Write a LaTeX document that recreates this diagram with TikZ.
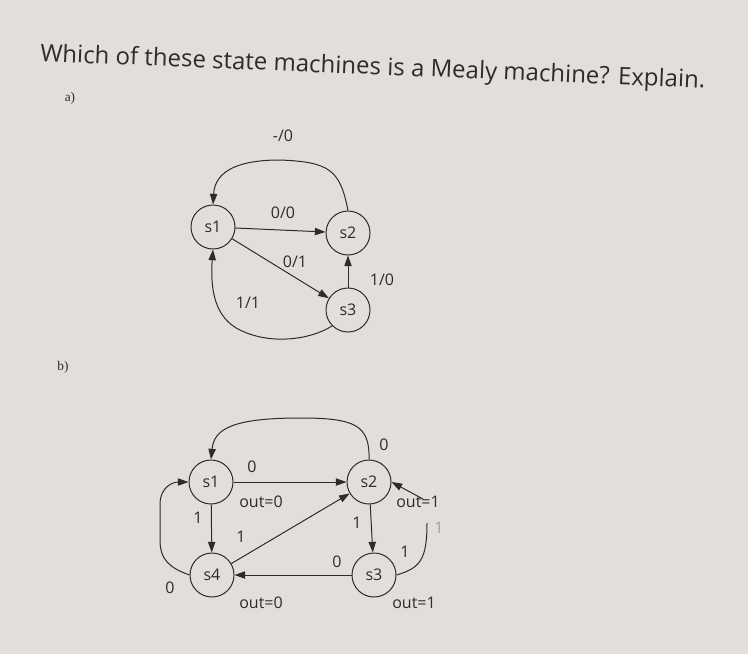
\documentclass[tikz,border=0pt]{standalone}
\usepackage{fontspec}
\setmainfont{Open Sans}
\newfontfamily\labelserif{Liberation Serif}
\usetikzlibrary{arrows.meta}
\definecolor{paper}{RGB}{226,223,219}
\definecolor{ink}{RGB}{45,43,43}
\begin{document}
\begin{tikzpicture}[x=0.75pt,y=-0.75pt,
  st/.style={circle,draw=ink,line width=0.75pt,minimum size=33pt,inner sep=0pt,text=ink,font=\fontsize{12}{14}\selectfont},
  lab/.style={text=ink,font=\fontsize{12}{14}\selectfont,inner sep=1pt},
  ed/.style={draw=ink,line width=0.75pt,-{Triangle[length=8pt,width=5.5pt]}},
  ln/.style={draw=ink,line width=0.75pt}]
\fill[paper] (0,0) rectangle (748,654);
\useasboundingbox (0,0) rectangle (748,654);
\node[text=ink,font=\fontsize{18}{21}\selectfont,rotate=-2.3,anchor=west,inner sep=0pt] (title) at (40,55) {Which of these state machines is a Mealy machine? Explain.};
\node[text=ink,font=\labelserif\fontsize{10}{12}\selectfont] (la) at (70,98) {a)};
\node[text=ink,font=\labelserif\fontsize{10}{12}\selectfont] (lb) at (63,367) {b)};
% part a
\node[st] (a1) at (213,227) {s1};
\node[st] (a2) at (348,233) {s2};
\node[st] (a3) at (348,310) {s3};
\draw[ed] (a1) -- (a2);
\draw[ed] (a1) -- (a3);
\draw[ed] (a3) -- (a2);
\draw[ed] (a2.north) .. controls (340,170) and (330,162) .. (280,160) .. controls (240,160) and (215,170) .. (a1.north);
\draw[ed] (a3.south west) .. controls (310,340) and (270,345) .. (240,330) .. controls (215,318) and (210,290) .. (a1.south);
\node[lab] (t1) at (283,136) {-/0};
\node[lab] (t2) at (283,213) {0/0};
\node[lab] (t3) at (295,262) {0/1};
\node[lab] (t4) at (382,280) {1/0};
\node[lab] (t5) at (248,303) {1/1};
% part b
\node[st] (b1) at (211,482) {s1};
\node[st] (b2) at (369,482) {s2};
\node[st] (b4) at (212,575) {s4};
\node[st] (b3) at (374,575) {s3};
\draw[ed] (b1) -- (b2);
\draw[ed] (b1) -- (b4);
\draw[ed] (b4) -- (b2);
\draw[ed] (b2) -- (b3);
\draw[ed] (b3) -- (b4);
\draw[ed] (b2.north) .. controls (370,425) and (355,418) .. (300,418) .. controls (230,418) and (214,430) .. (b1.north);
\draw[ed] (b4.west) .. controls (170,568) and (160,560) .. (160,540) -- (160,505) .. controls (160,485) and (175,482) .. (b1.west);
\coordinate (c1) at (427,523);
\coordinate (c2) at (423,499);
\draw[ln] (b3.east) .. controls (420,568) and (427,560) .. (c1);
\draw[ed] (c2) -- (b2.east);
\node[lab] (u1) at (252,467) {0};
\node[lab] (u2) at (261,502) {out=0};
\node[lab] (u3) at (198,518) {1};
\node[lab] (u4) at (241,537) {1};
\node[lab] (u5) at (384,445) {0};
\node[lab] (u6) at (418,502) {out=1};
\node[lab,text=ink!45] (u7) at (439,528) {1};
\node[lab] (u8) at (357,523) {1};
\node[lab] (u9) at (405,552) {1};
\node[lab] (u10) at (337,562) {0};
\node[lab] (u11) at (170,588) {0};
\node[lab] (u12) at (261,603) {out=0};
\node[lab] (u13) at (414,603) {out=1};
\end{tikzpicture}
\end{document}
